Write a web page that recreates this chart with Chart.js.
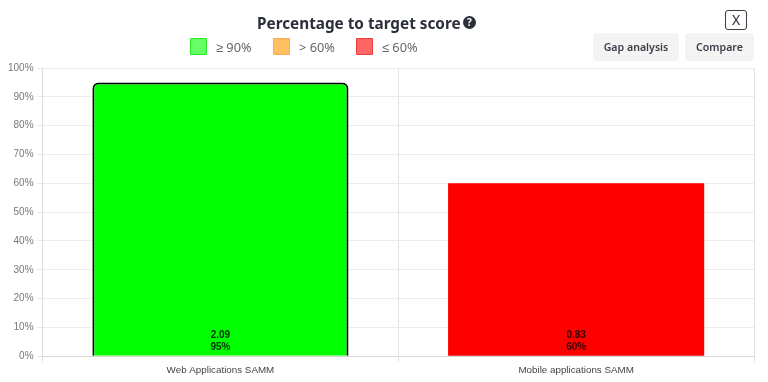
<!DOCTYPE html>
<html>
<head>
<meta charset="utf-8">
<script src="https://cdn.jsdelivr.net/npm/chart.js@4"></script>
<style>
html,body{margin:0;padding:0;background:#fff;width:768px;height:382px;overflow:hidden}
#wrap{position:relative;width:768px;height:382px;font-family:"Noto Sans",sans-serif}
canvas{position:absolute;left:0;top:0}
#title{position:absolute;left:257px;top:12px;font-size:15.3px;font-weight:700;color:#2b2f3a;line-height:22px;white-space:nowrap}
#help{position:absolute;left:463px;top:16px;width:13px;height:13px;border-radius:50%;background:#2b2f3a;color:#fff;font-size:10px;font-weight:700;line-height:13px;text-align:center}
.leg{position:absolute;top:38px;height:17px;display:flex;align-items:center;font-size:12.8px;color:#666;white-space:nowrap}
.leg i{display:block;width:15px;height:15px;border-width:1px;border-style:solid;border-radius:1px;margin-right:9px}
.btn{position:absolute;top:33px;height:28px;background:#f3f3f3;border-radius:4px;font-size:10.6px;font-weight:600;color:#3a3f47;line-height:28px;text-align:center}
#close{position:absolute;left:725px;top:10px;width:20px;height:18px;border:1px solid #3a3f47;border-radius:3px;font-size:14px;line-height:18px;text-align:center;color:#2b2f3a}
</style>
</head>
<body>
<div id="wrap">
<canvas id="c" width="768" height="382"></canvas>
<div id="title"></div><div id="help">?</div>
<div id="close">X</div>
<div class="btn" style="left:593px;width:86px">Gap analysis</div>
<div class="btn" style="left:685px;width:69px">Compare</div>
</div>
<script>
const categories = ["Web Applications SAMM", "Mobile applications SAMM"];
const percentages = [95, 60];
const scores = ["2.09", "0.83"];
const barColors = ["#00ff00", "#ff0000"];
const barBorders = ["#000000", "#ff0000"];
const legendLabels = ["≥ 90%", "> 60%", "≤ 60%"];
const legendFills = ["rgba(0,255,0,0.6)", "rgba(255,150,0,0.62)", "rgba(255,0,0,0.6)"];
const legendEdges = ["rgba(0,220,0,0.6)", "rgba(245,170,70,0.8)", "rgba(230,50,50,0.8)"];
const legendLefts = [190, 273, 356];
const chartTitle = "Percentage to target score";

document.getElementById("title").textContent = chartTitle;
legendLabels.forEach((t, k) => {
  const d = document.createElement("div");
  d.className = "leg";
  d.style.left = legendLefts[k] + "px";
  const b = document.createElement("i");
  b.style.background = legendFills[k];
  b.style.borderColor = legendEdges[k];
  d.appendChild(b);
  d.appendChild(document.createTextNode(t));
  document.getElementById("wrap").appendChild(d);
});

const barLabels = {
  id: "barLabels",
  afterDatasetsDraw(chart) {
    const ctx = chart.ctx, meta = chart.getDatasetMeta(0), y = chart.scales.y;
    ctx.save();
    ctx.font = "bold 10px 'Liberation Sans', Arial, sans-serif";
    ctx.fillStyle = "rgba(0,0,0,0.8)";
    ctx.textAlign = "center";
    ctx.textBaseline = "middle";
    meta.data.forEach((bar, i) => {
      ctx.fillText(scores[i], bar.x, y.bottom - 20.5);
      ctx.fillText(percentages[i] + "%", bar.x, y.bottom - 9);
    });
    ctx.restore();
  }
};

new Chart(document.getElementById("c"), {
  type: "bar",
  data: {
    labels: categories,
    datasets: [{
      data: percentages,
      backgroundColor: barColors,
      borderColor: barBorders,
      borderWidth: [2, 0],
      borderSkipped: "bottom",
      borderRadius: [{topLeft: 6, topRight: 6}, 0],
      barPercentage: 0.9,
      categoryPercentage: 0.8
    }]
  },
  options: {
    responsive: false,
    animation: false,
    layout: {padding: {top: 68, right: 14, bottom: 4, left: 5}},
    plugins: {legend: {display: false}, title: {display: false}, tooltip: {enabled: false}},
    scales: {
      x: {
        grid: {color: c => c.index === 2 ? "rgba(0,0,0,0)" : "#e2e2e2", tickLength: 6, offset: true},
        border: {color: "#d8d8d8"},
        ticks: {color: "#444", font: {size: 9.8, family: "'Liberation Sans', Arial, sans-serif"}, padding: 2, maxRotation: 0}
      },
      y: {
        min: 0, max: 100,
        grid: {color: "#ececec", tickLength: 6},
        border: {color: "#dcdcdc"},
        ticks: {stepSize: 10, callback: v => v + "%", color: "#777", font: {size: 10, family: "'Liberation Sans', Arial, sans-serif"}, padding: 3}
      }
    }
  },
  plugins: [barLabels]
});
</script>
</body>
</html>
